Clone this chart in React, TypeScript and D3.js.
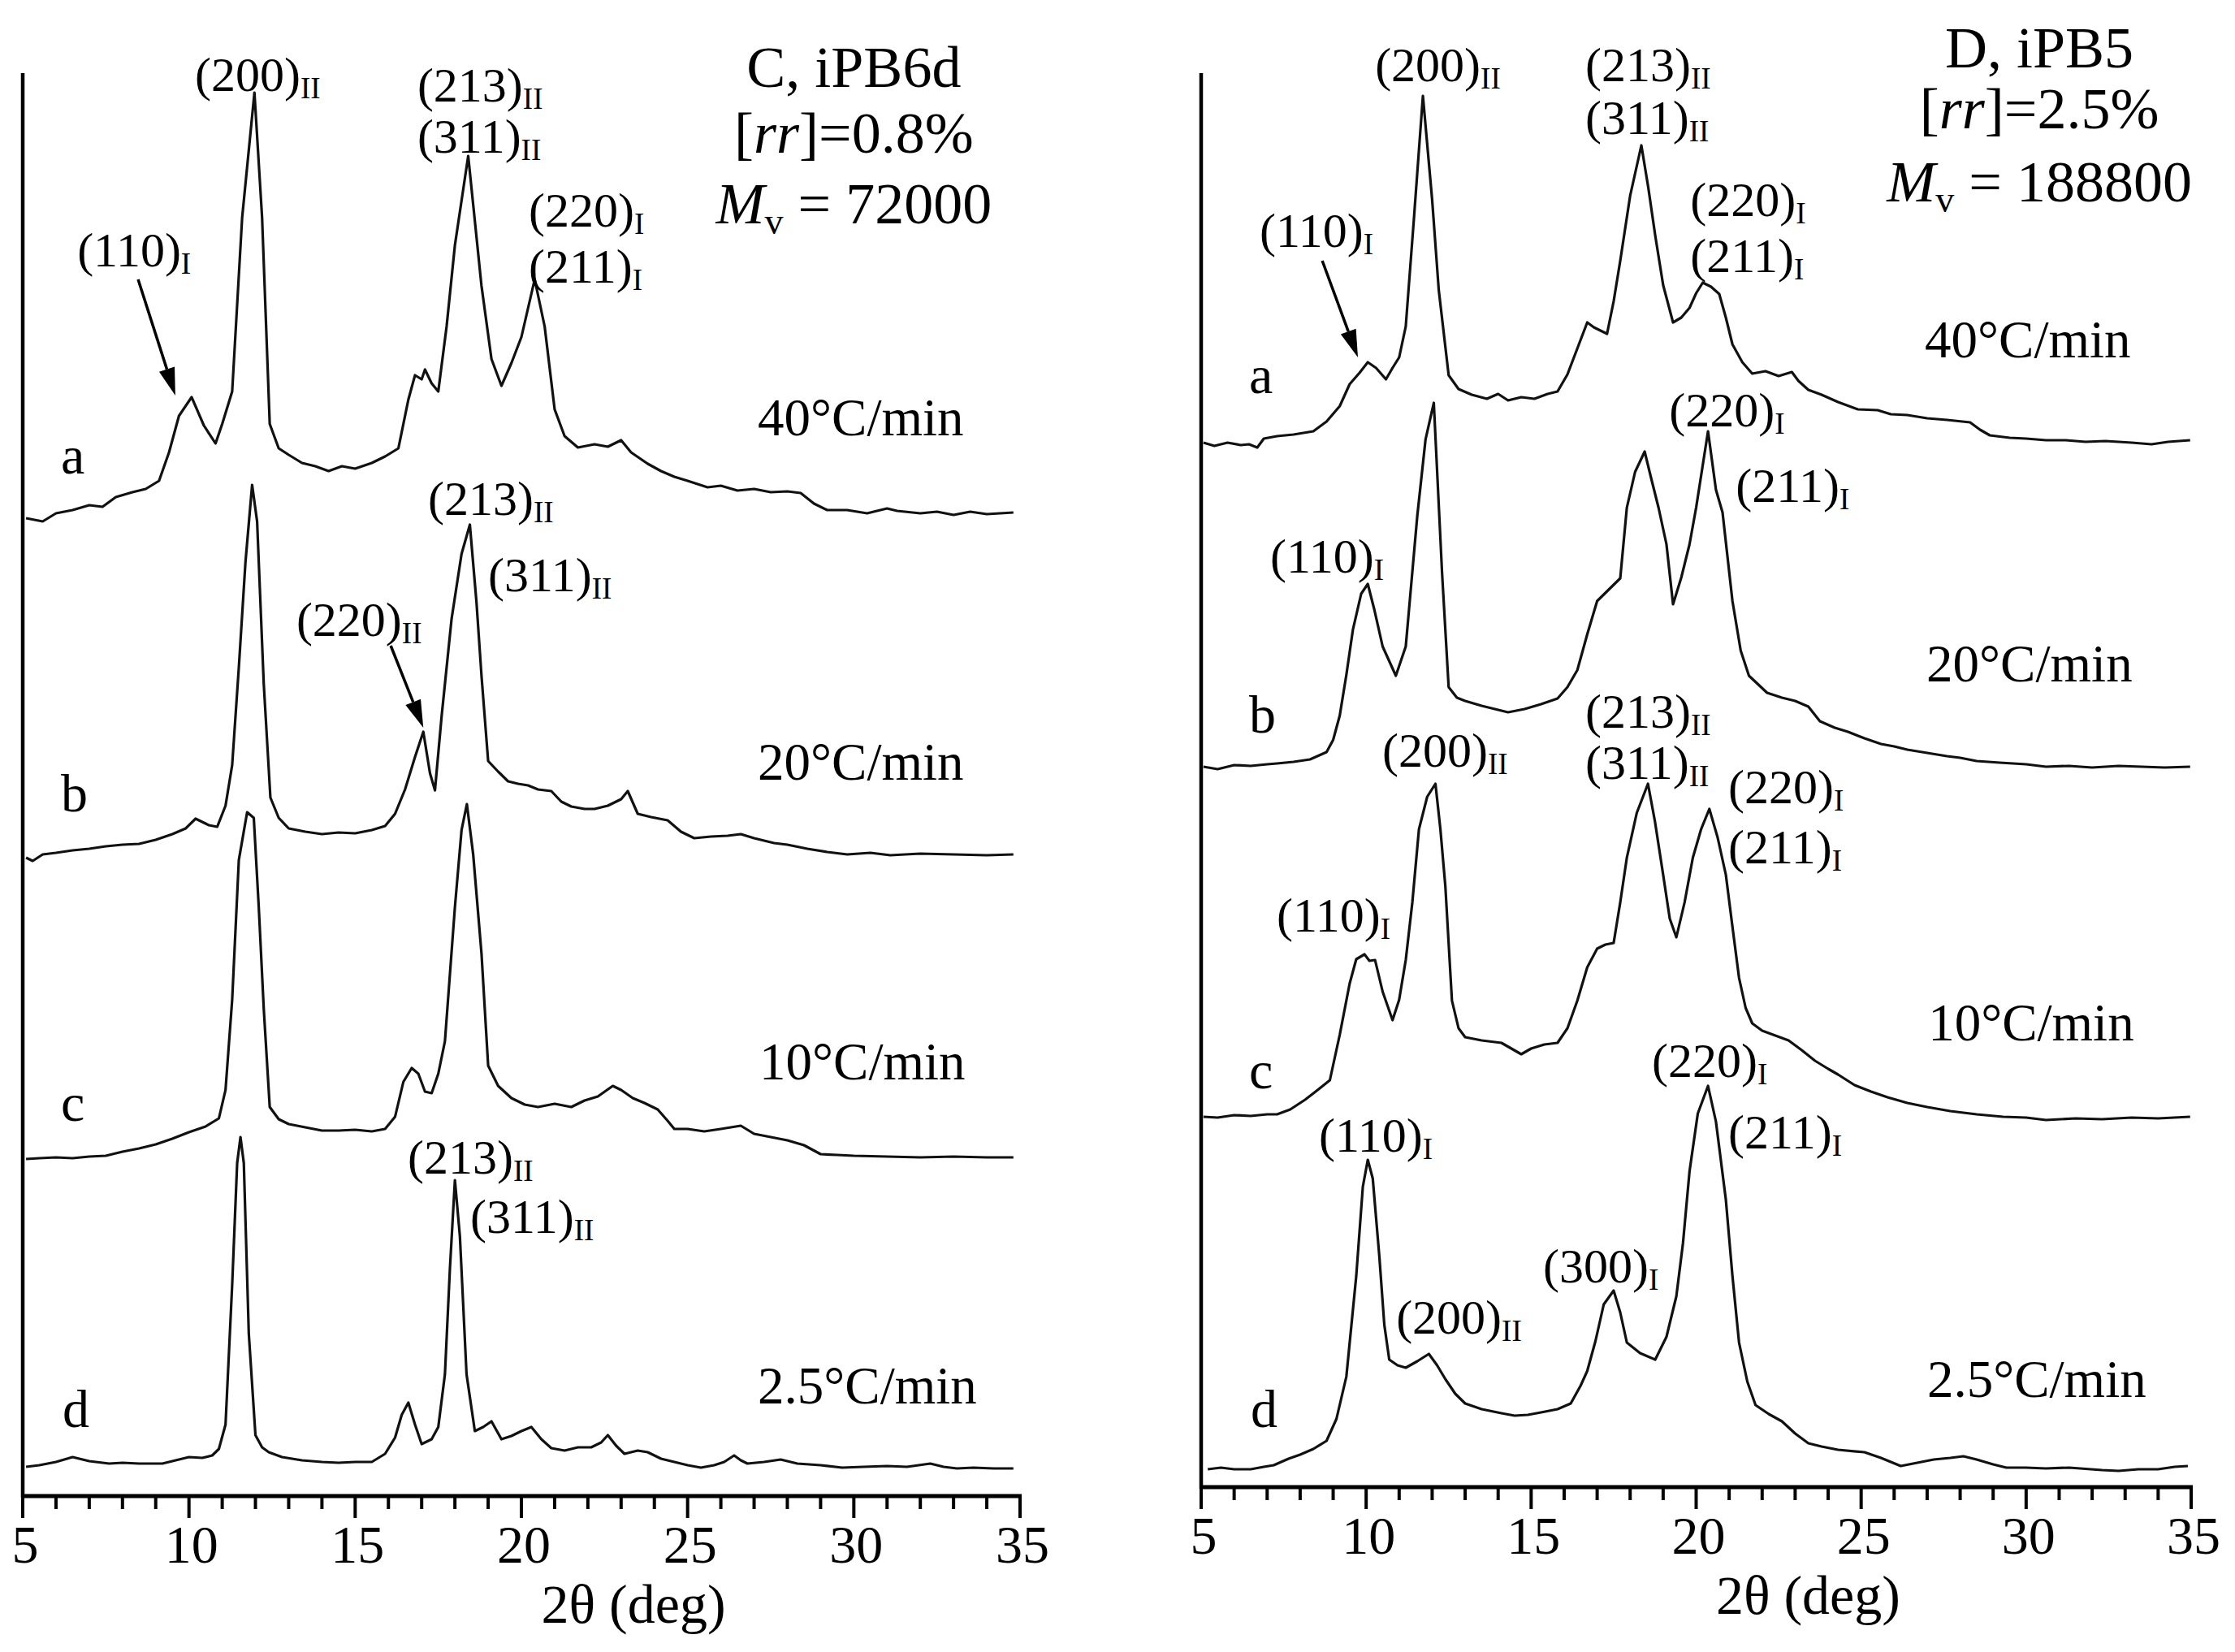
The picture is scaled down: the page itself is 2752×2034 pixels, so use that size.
import React from "react";
import * as d3 from "d3";

// ---------- data: 2θ (deg) vs intensity (a.u., curves stacked) ----------
const xTicksMajor = [5, 10, 15, 20, 25, 30, 35];
const xTicksMinor = d3.range(5, 36, 1);

// Panel C, iPB6d
const C_a: [number, number][] = [[5.1,1204],[5.6,1200],[6.0,1210],[6.5,1214],[7.0,1220],[7.4,1218],[7.8,1230],[8.3,1236],[8.7,1240],[9.1,1250],[9.4,1285],[9.7,1330],[10.08,1353],[10.45,1318],[10.8,1296],[11.0,1320],[11.3,1360],[11.6,1574],[11.97,1728],[12.2,1574],[12.43,1320],[12.7,1290],[13.0,1282],[13.4,1272],[13.8,1268],[14.2,1262],[14.6,1268],[15.0,1265],[15.5,1272],[15.9,1280],[16.3,1290],[16.6,1350],[16.8,1380],[17.0,1375],[17.1,1387],[17.3,1370],[17.5,1360],[17.75,1440],[18.0,1540],[18.4,1650],[18.8,1490],[19.1,1400],[19.4,1367],[19.7,1395],[20.0,1427],[20.4,1498],[20.7,1440],[21.0,1338],[21.3,1305],[21.7,1291],[22.2,1295],[22.6,1292],[23.0,1300],[23.3,1285],[23.8,1271],[24.2,1262],[24.6,1255],[25.0,1250],[25.6,1242],[26.0,1244],[26.5,1238],[27.0,1240],[27.5,1236],[28.0,1237],[28.4,1235],[28.8,1222],[29.2,1214],[29.8,1214],[30.4,1210],[31.0,1216],[31.3,1213],[32.0,1210],[32.5,1212],[33.0,1208],[33.5,1212],[34.0,1209],[34.8,1211]];
const C_b: [number, number][] = [[5.1,786],[5.3,782],[5.6,790],[6.0,792],[6.5,795],[7.0,797],[7.5,800],[8.0,802],[8.5,803],[9.0,808],[9.5,815],[9.9,822],[10.2,834],[10.4,830],[10.6,826],[10.85,824],[11.1,850],[11.3,900],[11.5,1020],[11.7,1150],[11.9,1245],[12.05,1200],[12.25,1000],[12.45,860],[12.7,835],[13.0,822],[13.5,818],[14.0,815],[14.5,817],[15.0,816],[15.5,820],[15.9,825],[16.2,840],[16.5,870],[16.8,910],[17.05,941],[17.25,890],[17.4,869],[17.6,960],[17.9,1080],[18.2,1160],[18.45,1196],[18.65,1100],[18.8,1010],[19.0,905],[19.3,892],[19.6,880],[19.9,877],[20.2,875],[20.5,870],[20.9,868],[21.2,855],[21.5,849],[21.9,846],[22.2,846],[22.6,850],[23.0,858],[23.2,868],[23.5,840],[23.9,836],[24.4,832],[24.8,818],[25.2,810],[25.7,812],[26.2,813],[26.6,815],[27.0,810],[27.6,804],[28.0,802],[28.6,797],[29.2,793],[29.8,790],[30.5,792],[31.1,789],[32.0,791],[33.0,790],[34.0,789],[34.8,790]];
const C_c: [number, number][] = [[5.1,415],[5.5,416],[6.0,417],[6.5,416],[7.0,418],[7.5,419],[8.0,424],[8.5,428],[9.0,433],[9.5,440],[10.0,448],[10.5,455],[10.9,465],[11.1,500],[11.3,611],[11.5,783],[11.75,842],[11.95,835],[12.1,725],[12.25,600],[12.43,479],[12.7,464],[13.0,458],[13.5,454],[14.0,450],[14.5,450],[15.0,451],[15.5,449],[15.9,452],[16.2,467],[16.45,510],[16.7,527],[16.9,520],[17.1,498],[17.3,496],[17.5,520],[17.7,560],[18.0,725],[18.2,820],[18.36,852],[18.55,790],[18.8,668],[19.0,530],[19.3,505],[19.7,490],[20.1,482],[20.5,479],[21.0,483],[21.5,479],[21.9,487],[22.3,492],[22.75,505],[23.0,500],[23.35,490],[23.7,484],[24.1,476],[24.4,462],[24.6,452],[25.0,452],[25.5,449],[26.0,452],[26.6,456],[27.0,446],[27.5,442],[28.0,438],[28.5,432],[29.0,421],[29.5,420],[30.0,419],[31.0,418],[32.0,417],[33.0,418],[34.0,417],[34.8,417]];
const C_d: [number, number][] = [[5.1,36],[5.5,38],[6.0,42],[6.5,48],[7.0,43],[7.6,40],[8.0,41],[8.5,40],[9.2,40],[9.6,44],[10.0,48],[10.4,47],[10.7,50],[10.9,58],[11.1,88],[11.3,260],[11.45,410],[11.55,442],[11.65,410],[11.8,200],[12.0,75],[12.2,60],[12.4,54],[12.8,48],[13.4,44],[14.0,42],[14.5,41],[15.0,42],[15.5,42],[15.9,52],[16.2,72],[16.4,100],[16.6,115],[16.8,88],[17.0,64],[17.3,70],[17.5,85],[17.7,150],[17.85,280],[18.0,389],[18.15,320],[18.35,150],[18.6,80],[18.85,85],[19.1,92],[19.4,70],[19.7,74],[20.0,80],[20.3,85],[20.6,70],[20.9,59],[21.3,56],[21.7,60],[22.1,60],[22.4,66],[22.6,75],[22.85,62],[23.1,52],[23.5,56],[23.8,54],[24.2,46],[24.6,42],[25.0,38],[25.4,35],[25.8,38],[26.1,42],[26.4,50],[26.6,44],[26.8,40],[27.3,42],[27.8,45],[28.3,40],[29.0,38],[29.65,35],[30.3,36],[31.0,37],[31.6,36],[32.3,40],[32.7,36],[33.1,34],[33.6,35],[34.2,34],[34.8,34]];

// Panel D, iPB5
const D_a: [number, number][] = [[5.07,1286],[5.4,1282],[5.8,1286],[6.2,1283],[6.45,1284],[6.7,1280],[6.9,1291],[7.3,1294],[7.8,1296],[8.4,1300],[8.8,1312],[9.2,1331],[9.5,1358],[9.8,1372],[10.05,1385],[10.3,1378],[10.6,1364],[10.8,1378],[11.0,1391],[11.2,1429],[11.45,1563],[11.72,1713],[12.0,1585],[12.2,1474],[12.5,1369],[12.8,1352],[13.2,1345],[13.66,1340],[14.0,1346],[14.3,1338],[14.7,1342],[15.1,1340],[15.5,1346],[15.8,1349],[16.1,1370],[16.4,1402],[16.7,1434],[16.9,1428],[17.1,1424],[17.3,1420],[17.5,1460],[17.7,1510],[18.0,1590],[18.34,1652],[18.55,1600],[18.76,1541],[19.0,1480],[19.3,1434],[19.55,1440],[19.8,1452],[20.0,1470],[20.2,1483],[20.45,1478],[20.7,1469],[20.9,1440],[21.1,1407],[21.4,1385],[21.7,1371],[22.1,1374],[22.5,1368],[22.9,1373],[23.1,1362],[23.4,1351],[23.8,1345],[24.3,1336],[24.9,1327],[25.5,1326],[25.9,1321],[26.4,1320],[27.0,1316],[27.6,1314],[28.3,1311],[28.6,1302],[28.9,1295],[29.5,1292],[30.0,1291],[30.6,1289],[31.2,1289],[31.8,1287],[32.4,1288],[33.2,1286],[33.8,1284],[34.3,1287],[34.97,1289]];
const D_b: [number, number][] = [[5.07,887],[5.5,884],[6.0,889],[6.5,888],[7.0,890],[7.3,891],[7.8,893],[8.3,896],[8.8,905],[9.0,920],[9.2,950],[9.4,1000],[9.6,1056],[9.85,1100],[10.05,1112],[10.25,1080],[10.5,1035],[10.9,999],[11.2,1035],[11.55,1196],[11.8,1290],[12.05,1335],[12.3,1126],[12.5,985],[12.75,972],[13.0,968],[13.5,962],[14.0,957],[14.3,954],[14.8,958],[15.3,964],[15.8,971],[16.1,985],[16.4,1006],[16.7,1050],[17.0,1091],[17.35,1105],[17.7,1119],[17.9,1206],[18.15,1250],[18.44,1275],[18.65,1240],[18.86,1206],[19.1,1161],[19.3,1087],[19.55,1120],[19.8,1161],[20.0,1206],[20.36,1300],[20.6,1228],[20.8,1200],[21.1,1091],[21.35,1030],[21.6,999],[22.15,978],[22.6,972],[23.0,968],[23.4,961],[23.75,943],[24.2,935],[24.6,930],[25.1,922],[25.6,915],[26.0,912],[26.4,908],[27.0,904],[27.6,900],[28.0,898],[28.5,894],[29.2,892],[30.0,890],[30.6,887],[31.3,888],[32.0,886],[32.8,888],[33.5,887],[34.2,886],[34.97,887]];
const D_c: [number, number][] = [[5.07,456],[5.5,455],[6.0,458],[6.5,457],[7.0,459],[7.3,459],[7.7,465],[8.15,477],[8.5,488],[8.9,501],[9.2,557],[9.5,620],[9.7,650],[9.95,656],[10.1,648],[10.27,649],[10.5,610],[10.8,575],[11.0,600],[11.2,649],[11.4,720],[11.6,810],[11.85,850],[12.1,866],[12.25,810],[12.4,740],[12.6,599],[12.8,565],[13.0,554],[13.5,550],[14.1,547],[14.4,540],[14.7,533],[15.0,540],[15.4,545],[15.8,547],[16.1,565],[16.4,599],[16.7,640],[17.0,663],[17.25,668],[17.5,670],[17.7,720],[17.9,775],[18.2,830],[18.54,866],[18.75,820],[19.0,754],[19.2,700],[19.4,677],[19.65,720],[19.9,775],[20.15,810],[20.4,835],[20.65,800],[20.9,754],[21.1,690],[21.3,627],[21.5,590],[21.7,571],[22.0,562],[22.4,556],[22.8,550],[23.2,538],[23.6,525],[24.0,515],[24.3,508],[24.8,495],[25.3,487],[25.8,480],[26.4,473],[27.0,468],[27.7,463],[28.5,459],[29.3,456],[30.0,455],[30.6,452],[31.5,454],[32.3,453],[33.2,455],[34.0,454],[34.97,456]];
const D_d: [number, number][] = [[5.2,22],[5.6,24],[6.0,22],[6.5,22],[6.9,25],[7.2,27],[7.65,35],[8.0,40],[8.4,47],[8.8,57],[9.1,84],[9.4,136],[9.7,260],[9.9,370],[10.05,403],[10.2,380],[10.4,284],[10.55,200],[10.7,157],[10.95,150],[11.2,147],[11.55,155],[11.9,164],[12.15,150],[12.4,133],[12.7,115],[13.0,103],[13.5,96],[14.1,91],[14.5,88],[14.9,89],[15.3,92],[15.8,96],[16.2,103],[16.5,125],[16.7,143],[16.95,180],[17.2,225],[17.5,242],[17.7,215],[17.9,178],[18.3,165],[18.76,157],[19.1,185],[19.4,235],[19.6,300],[19.8,389],[20.05,460],[20.36,494],[20.6,450],[20.9,354],[21.1,260],[21.3,178],[21.55,130],[21.8,101],[22.2,90],[22.6,81],[23.0,66],[23.4,54],[23.8,50],[24.3,46],[25.1,43],[25.6,36],[26.2,26],[26.7,30],[27.2,34],[27.7,36],[28.1,38],[28.5,34],[29.0,28],[29.4,24],[30.0,24],[30.6,23],[31.3,24],[32.3,21],[32.8,20],[33.4,22],[34.0,22],[34.5,25],[34.9,26]];

// annotations: [text, subscript, 2θ, intensity]
type Ann = [string, string, number, number];
const C_peakLabels: Ann[] = [
  ["(200)", "II", 10.18, 1730], ["(213)", "II", 16.87, 1717], ["(311)", "II", 16.87, 1654],
  ["(220)", "I", 20.22, 1563], ["(211)", "I", 20.22, 1494], ["(110)", "I", 6.64, 1514],
  ["(213)", "II", 17.19, 1208], ["(311)", "II", 19.0, 1114], ["(220)", "II", 13.23, 1059],
  ["(213)", "II", 16.58, 397], ["(311)", "II", 18.46, 324],
];
const D_peakLabels: Ann[] = [
  ["(200)", "II", 10.27, 1731], ["(213)", "II", 16.64, 1731], ["(311)", "II", 16.64, 1666],
  ["(220)", "I", 19.82, 1565], ["(211)", "I", 19.82, 1496], ["(110)", "I", 6.77, 1527],
  ["(220)", "I", 19.18, 1306], ["(211)", "I", 21.2, 1213], ["(110)", "I", 7.09, 1126],
  ["(213)", "II", 16.64, 935], ["(311)", "II", 16.64, 872], ["(200)", "II", 10.49, 887],
  ["(220)", "I", 20.97, 842], ["(211)", "I", 20.97, 768], ["(110)", "I", 7.29, 684],
  ["(220)", "I", 18.66, 505], ["(211)", "I", 20.97, 417], ["(110)", "I", 8.57, 413],
  ["(300)", "I", 15.36, 252], ["(200)", "II", 10.91, 189],
];
// rate labels and curve letters: [text, 2θ, intensity]
const C_rates: [string, number, number][] = [["40°C/min", 27.11, 1306], ["20°C/min", 27.11, 882], ["10°C/min", 27.16, 513], ["2.5°C/min", 27.11, 114]];
const D_rates: [string, number, number][] = [["40°C/min", 26.93, 1391], ["20°C/min", 26.98, 992], ["10°C/min", 27.03, 550], ["2.5°C/min", 27.0, 111]];
const C_letters: [string, number, number][] = [["a", 6.15, 1259], ["b", 6.15, 843], ["c", 6.15, 462], ["d", 6.2, 85]];
const D_letters: [string, number, number][] = [["a", 6.45, 1347], ["b", 6.45, 929], ["c", 6.45, 491], ["d", 6.5, 74]];
// arrows: [from 2θ, from I, to 2θ, to I]
const C_arrows: [number, number, number, number][] = [[8.47, 1498, 9.59, 1355], [16.07, 1047, 17.05, 946]];
const D_arrows: [number, number, number, number][] = [[8.67, 1510, 9.75, 1391]];
// sample info
const C_info = { name: "C, iPB6d", rr: "0.8%", mv: "72000", x: 30.0, y: [1735, 1654, 1567] };
const D_info = { name: "D, iPB5", rr: "2.5%", mv: "188800", x: 30.4, y: [1748, 1673, 1583] };

const FONT = '"Liberation Serif", "Times New Roman", Times, serif';

function Panel({ x0, x1, axisY, top, curves, peaks, rates, letters, arrows, info }: any) {
  const x = d3.scaleLinear().domain([5, 35]).range([x0, x1]);
  const y = d3.scaleLinear().domain([0, 1750]).range([axisY, axisY - 1750]);
  const line = d3.line<[number, number]>().x((d) => x(d[0])).y((d) => y(d[1]));
  return (
    <g fontFamily={FONT} fill="#000">
      {curves.map((c: [number, number][], i: number) => (
        <path key={i} d={line(c) || ""} fill="none" stroke="#111" strokeWidth={3.2} strokeLinejoin="round" />
      ))}
      <line x1={x0} x2={x0} y1={top} y2={axisY + 2} stroke="#000" strokeWidth={4.5} />
      <line x1={x0 - 2} x2={x1 + 2} y1={axisY} y2={axisY} stroke="#000" strokeWidth={5} />
      {xTicksMinor.map((t) => (
        <line key={"m" + t} x1={x(t)} x2={x(t)} y1={axisY} y2={axisY + (t % 5 === 0 ? 27 : 16)} stroke="#000" strokeWidth={4} />
      ))}
      {xTicksMajor.map((t) => (
        <text key={"t" + t} x={x(t) + 3} y={axisY + 82} textAnchor="middle" fontSize={66}>{t}</text>
      ))}
      <text x={x(20.6)} y={axisY + 156} fontSize={68}>2θ (deg)</text>
      {peaks.map((p: Ann, i: number) => (
        <text key={"p" + i} x={x(p[2])} y={y(p[3])} fontSize={60}>
          {p[0]}
          <tspan fontSize={37} dy={9}>{p[1]}</tspan>
        </text>
      ))}
      {rates.map((r: any, i: number) => (
        <text key={"r" + i} x={x(r[1])} y={y(r[2])} fontSize={65}>{r[0]}</text>
      ))}
      {letters.map((r: any, i: number) => (
        <text key={"l" + i} x={x(r[1])} y={y(r[2])} fontSize={66}>{r[0]}</text>
      ))}
      {arrows.map((a: number[], i: number) => {
        const ax = x(a[0]), ay = y(a[1]), bx = x(a[2]), by = y(a[3]);
        const ang = Math.atan2(by - ay, bx - ax);
        const L = 34, W = 10;
        const px = bx - L * Math.cos(ang), py = by - L * Math.sin(ang);
        const nx = -Math.sin(ang) * W, ny = Math.cos(ang) * W;
        return (
          <g key={"a" + i}>
            <line x1={ax} y1={ay} x2={px} y2={py} stroke="#000" strokeWidth={3.5} />
            <polygon points={`${bx},${by} ${px + nx},${py + ny} ${px - nx},${py - ny}`} fill="#000" />
          </g>
        );
      })}
      <text x={x(info.x)} y={y(info.y[0])} textAnchor="middle" fontSize={72}>{info.name}</text>
      <text x={x(info.x)} y={y(info.y[1])} textAnchor="middle" fontSize={72}>
        [<tspan fontStyle="italic">rr</tspan>]={info.rr}
      </text>
      <text x={x(info.x)} y={y(info.y[2])} textAnchor="middle" fontSize={72}>
        <tspan fontStyle="italic">M</tspan>
        <tspan fontSize={46} dy={13}>v</tspan>
        <tspan dy={-13}> = {info.mv}</tspan>
      </text>
    </g>
  );
}

export default function App() {
  return (
    <svg width={2752} height={2034} style={{ position: "absolute", left: 0, top: 0, background: "#fff" }}>
      <rect width={2752} height={2034} fill="#fff" />
      <Panel x0={28} x1={1256} axisY={1842} top={90} curves={[C_a, C_b, C_c, C_d]}
        peaks={C_peakLabels} rates={C_rates} letters={C_letters} arrows={C_arrows} info={C_info} />
      <Panel x0={1479} x1={2698} axisY={1831} top={90} curves={[D_a, D_b, D_c, D_d]}
        peaks={D_peakLabels} rates={D_rates} letters={D_letters} arrows={D_arrows} info={D_info} />
    </svg>
  );
}
